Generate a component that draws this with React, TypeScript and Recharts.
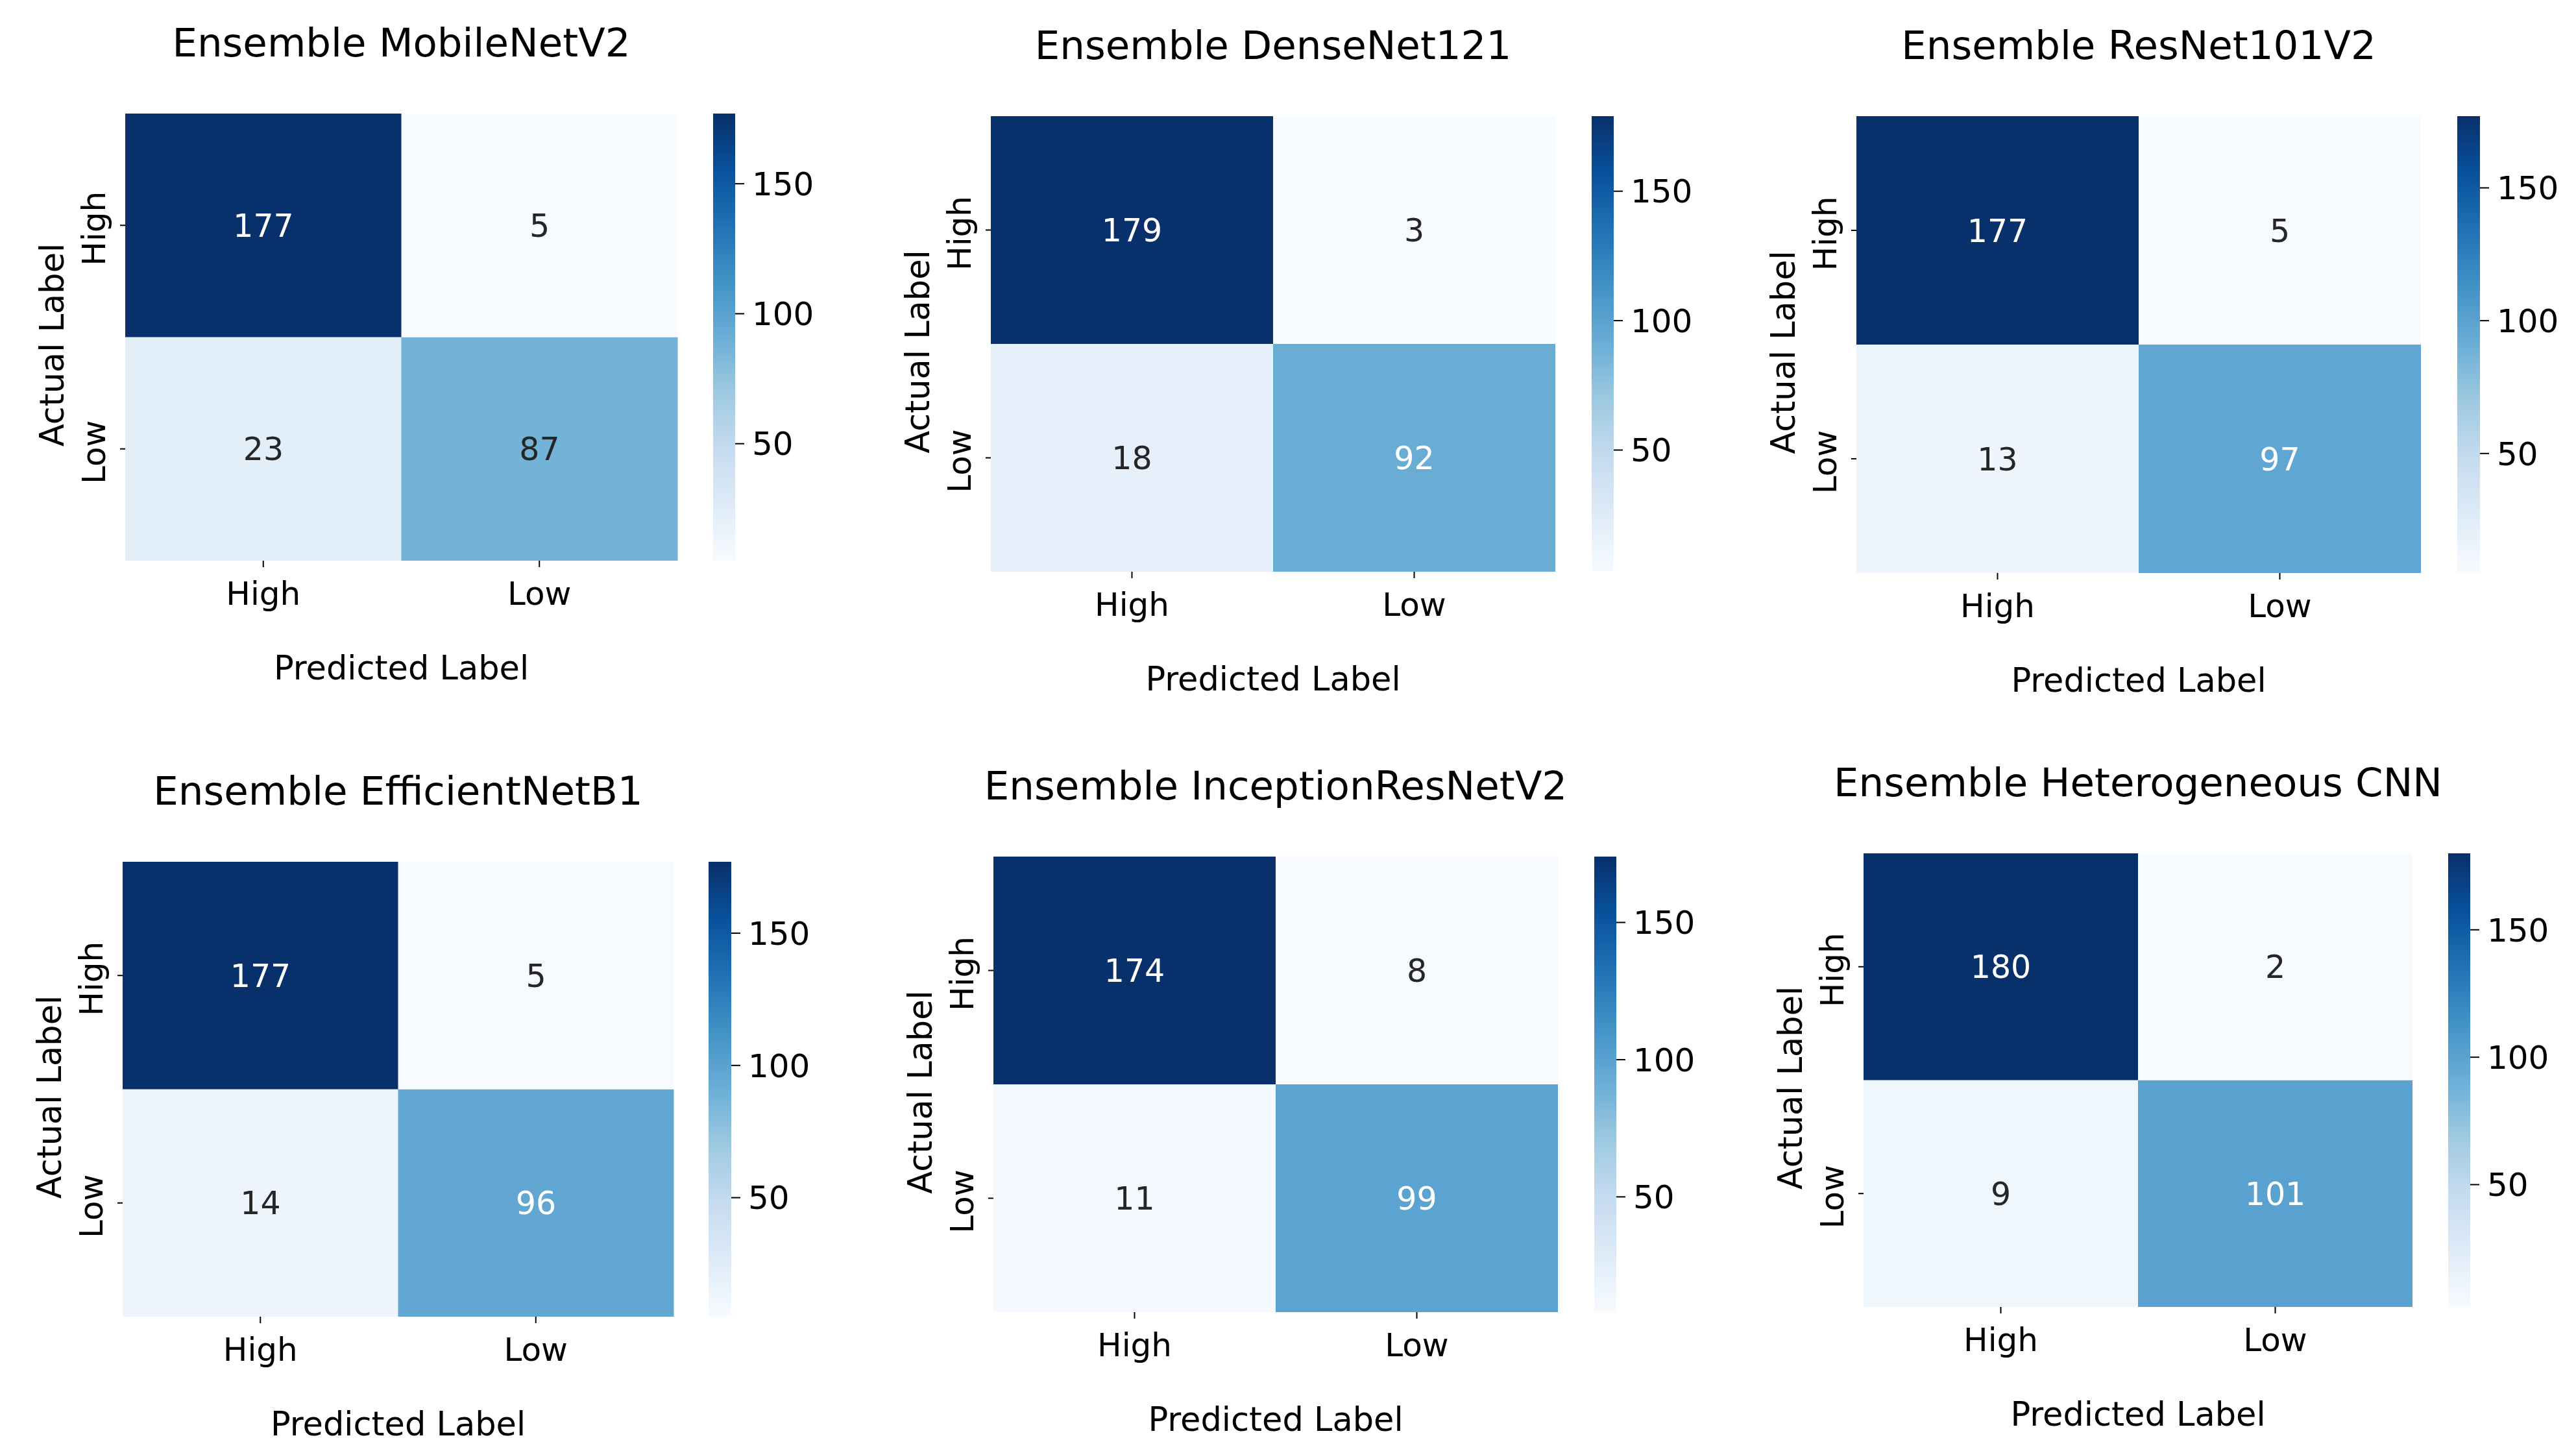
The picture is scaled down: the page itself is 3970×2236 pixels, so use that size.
import React from 'react'
import { BarChart, Bar, XAxis, YAxis, Cell, LabelList, Label } from 'recharts'

const predictedLabels = ['High', 'Low']
const actualLabels = ['High', 'Low']
const colorbarTicks = [50, 100, 150]

const titles = [
  'Ensemble MobileNetV2',
  'Ensemble DenseNet121',
  'Ensemble ResNet101V2',
  'Ensemble EfficientNetB1',
  'Ensemble InceptionResNetV2',
  'Ensemble Heterogeneous CNN',
]

// rows = actual (High, Low), cols = predicted (High, Low)
const mobileNetV2 = [[177, 5], [23, 87]]
const denseNet121 = [[179, 3], [18, 92]]
const resNet101V2 = [[177, 5], [13, 97]]
const efficientNetB1 = [[177, 5], [14, 96]]
const inceptionResNetV2 = [[174, 8], [11, 99]]
const heterogeneousCnn = [[180, 2], [9, 101]]

const matrices = [mobileNetV2, denseNet121, resNet101V2, efficientNetB1, inceptionResNetV2, heterogeneousCnn]

// where each heatmap + colorbar sits on the page
const layout = [
  { left: 193, top: 175, right: 1044, bottom: 864, cbLeft: 1099, cbRight: 1133 },
  { left: 1527, top: 179, right: 2397, bottom: 881, cbLeft: 2453, cbRight: 2487 },
  { left: 2861, top: 179, right: 3731, bottom: 883, cbLeft: 3787, cbRight: 3822 },
  { left: 189, top: 1328, right: 1038, bottom: 2029, cbLeft: 1092, cbRight: 1127 },
  { left: 1531, top: 1320, right: 2401, bottom: 2022, cbLeft: 2457, cbRight: 2491 },
  { left: 2872, top: 1315, right: 3718, bottom: 2014, cbLeft: 3773, cbRight: 3807 },
]

const FONT = '"DejaVu Sans", sans-serif'
const TITLE_SIZE = 61
const LABEL_SIZE = 51
const TICK_SIZE = 50
const ANNOT_SIZE = 49

// matplotlib "Blues"
const BLUES = ['#f7fbff', '#deebf7', '#c6dbef', '#9ecae1', '#6baed6', '#4292c6', '#2171b5', '#08519c', '#08306b']

const hexToRgb = (h: string) => [1, 3, 5].map(i => parseInt(h.slice(i, i + 2), 16))

function blues(t: number) {
  const p = Math.max(0, Math.min(1, t)) * 8
  const i = Math.min(7, Math.floor(p))
  const f = p - i
  const a = hexToRgb(BLUES[i])
  const b = hexToRgb(BLUES[i + 1])
  return a.map((v, k) => Math.round(v + (b[k] - v) * f))
}

const rgbStr = (c: number[]) => `rgb(${c[0]},${c[1]},${c[2]})`

function luminance(c: number[]) {
  const lin = c.map(v => {
    const s = v / 255
    return s <= 0.03928 ? s / 12.92 : Math.pow((s + 0.055) / 1.055, 2.4)
  })
  return 0.2126 * lin[0] + 0.7152 * lin[1] + 0.0722 * lin[2]
}

function Panel({ idx }: { idx: number }) {
  const m = matrices[idx]
  const g = layout[idx]
  const flat = m.flat()
  const vmin = Math.min(...flat)
  const vmax = Math.max(...flat)
  const norm = (v: number) => (v - vmin) / (vmax - vmin)

  const data = predictedLabels.map((p, j) => ({
    pred: p,
    rowLow: 1,
    rowHigh: 1,
    countLow: m[1][j],
    countHigh: m[0][j],
  }))

  const W = g.right - g.left
  const H = g.bottom - g.top
  const padL = 200
  const padT = 20
  const padR = 10
  const padB = 210

  const renderCount = (props: any) => {
    const { x, y, width, height, value } = props
    const c = blues(norm(Number(value)))
    const fill = luminance(c) > 0.408 ? '#262626' : '#ffffff'
    return (
      <text x={x + width / 2} y={y + height / 2} dy="0.36em" textAnchor="middle"
        fontSize={ANNOT_SIZE} fontFamily={FONT} fill={fill}>
        {value}
      </text>
    )
  }

  const RowTick = (props: any) => {
    const { x, y, payload } = props
    const px = x - 23
    const py = y + 5
    const label = payload.value > 1 ? actualLabels[0] : actualLabels[1]
    return (
      <text x={px} y={py} transform={`rotate(-90 ${px} ${py})`} textAnchor="middle"
        fontSize={TICK_SIZE} fontFamily={FONT} fill="#000">
        {label}
      </text>
    )
  }

  const cbW = g.cbRight - g.cbLeft
  const cbData = [{ name: 'cb', range: [vmin, vmax] }]
  const gradId = `blues-grad-${idx}`
  const centerX = (g.left + g.right) / 2

  return (
    <>
      <div style={{
        position: 'absolute', left: centerX - 800, width: 1600,
        top: g.top - 88 - Math.round(0.846 * TITLE_SIZE),
        textAlign: 'center', fontSize: TITLE_SIZE, lineHeight: `${TITLE_SIZE}px`,
        fontFamily: FONT, color: '#000', whiteSpace: 'nowrap',
      }}>
        {titles[idx]}
      </div>

      <div style={{ position: 'absolute', left: g.left - padL, top: g.top - padT }}>
        <BarChart width={W + padL + padR} height={H + padT + padB} data={data}
          margin={{ top: padT, right: padR, left: 0, bottom: 0 }} barCategoryGap={0}>
          <XAxis dataKey="pred" height={padB} interval={0} axisLine={false}
            tickSize={10} tickMargin={22} tickLine={{ stroke: '#000', strokeWidth: 2 }}
            tick={{ fill: '#000', fontSize: TICK_SIZE, fontFamily: FONT }}>
            <Label content={() => (
              <text x={padL + W / 2} y={padT + H + 183} textAnchor="middle"
                fontSize={LABEL_SIZE} fontFamily={FONT} fill="#000">Predicted Label</text>
            )} />
          </XAxis>
          <YAxis type="number" domain={[0, 2]} ticks={[0.5, 1.5]} width={padL} allowDataOverflow
            axisLine={false} tickSize={8} tickMargin={0} tickLine={{ stroke: '#000', strokeWidth: 2 }}
            tick={(p: any) => <RowTick {...p} />}>
            <Label content={() => {
              const px = padL - 95
              const py = padT + H / 2 + 12
              return (
                <text x={px} y={py} transform={`rotate(-90 ${px} ${py})`} textAnchor="middle"
                  fontSize={LABEL_SIZE} fontFamily={FONT} fill="#000">Actual Label</text>
              )
            }} />
          </YAxis>
          <Bar dataKey="rowLow" stackId="cm" isAnimationActive={false}>
            {data.map((d, j) => <Cell key={`l${j}`} fill={rgbStr(blues(norm(d.countLow)))} />)}
            <LabelList dataKey="countLow" content={renderCount} />
          </Bar>
          <Bar dataKey="rowHigh" stackId="cm" isAnimationActive={false}>
            {data.map((d, j) => <Cell key={`h${j}`} fill={rgbStr(blues(norm(d.countHigh)))} />)}
            <LabelList dataKey="countHigh" content={renderCount} />
          </Bar>
        </BarChart>
      </div>

      <div style={{ position: 'absolute', left: g.cbLeft, top: g.top - 40 }}>
        <BarChart width={cbW + 200} height={H + 80} data={cbData}
          margin={{ top: 40, right: 0, left: 0, bottom: 40 }} barCategoryGap={0}>
          <defs>
            <linearGradient id={gradId} x1="0" y1="0" x2="0" y2="1">
              {[...BLUES].reverse().map((c, k) => <stop key={k} offset={k / 8} stopColor={c} />)}
            </linearGradient>
          </defs>
          <XAxis dataKey="name" hide />
          <YAxis orientation="right" type="number" domain={[vmin, vmax]} allowDataOverflow
            ticks={colorbarTicks} width={200} axisLine={false} tickSize={14} tickMargin={12}
            tickLine={{ stroke: '#000', strokeWidth: 2 }}
            tick={{ fill: '#000', fontSize: TICK_SIZE, fontFamily: FONT }} />
          <Bar dataKey="range" fill={`url(#${gradId})`} isAnimationActive={false} />
        </BarChart>
      </div>
    </>
  )
}

export default function App() {
  return (
    <div style={{
      position: 'absolute', left: 0, top: 0, width: 3970, height: 2236,
      background: '#fff', fontFamily: FONT, overflow: 'hidden',
    }}>
      {matrices.map((_, i) => <Panel key={i} idx={i} />)}
    </div>
  )
}
